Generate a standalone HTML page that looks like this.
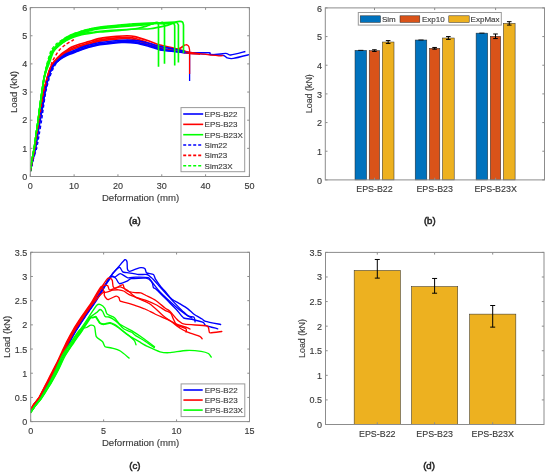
<!DOCTYPE html>
<html><head><meta charset="utf-8"><style>
html,body{margin:0;padding:0;background:#fff;}
svg{display:block;font-family:"Liberation Sans",sans-serif;transform:translateZ(0);will-change:transform;filter:blur(0.3px);}
</style></head><body>
<svg width="550" height="475" viewBox="0 0 550 475">
<defs>
<clipPath id="ca"><rect x="30.3" y="7.6" width="155.2" height="168.9"/></clipPath>
<clipPath id="ca2"><rect x="185.5" y="7.6" width="63.900000000000006" height="168.9"/></clipPath>
<clipPath id="cc"><rect x="30.7" y="252.3" width="218.8" height="169.3"/></clipPath>
</defs>
<rect width="550" height="475" fill="#fff"/>
<g clip-path="url(#ca)">
<path d="M30.3,171 C30.92,167.99 34.03,153.33 34.94,148.4 C35.85,143.47 36.53,137.79 37.12,134 C37.72,130.21 38.78,123.87 39.4,120 C40.02,116.13 41.15,108.79 41.78,105 C42.42,101.21 43.44,95.08 44.16,91.6 C44.89,88.12 46.42,81.95 47.23,78.9 C48.04,75.86 49.32,71.03 50.2,68.76 C51.08,66.49 52.36,63.88 53.86,61.88 C55.37,59.89 59.57,55.51 61.49,53.81 C63.4,52.12 66.78,50.12 68.22,49.19 C69.66,48.25 70.73,47.49 72.3,46.8 C73.87,46.11 77.83,44.69 80,44 C82.17,43.31 85.93,42.35 88.6,41.6 C91.27,40.85 96.29,39.09 100,38.4 C103.71,37.71 112.76,36.75 116.4,36.4 C120.04,36.05 124.83,35.73 127.3,35.75 C129.77,35.78 131.99,35.88 134.9,36.59 C137.81,37.3 145.75,39.96 149.1,41.09 C152.45,42.22 156.55,44.08 160,45.06 C163.45,46.05 170.99,47.48 175,48.46 C179.01,49.44 186.1,51.63 190.1,52.4 C194.1,53.17 200.93,53.73 205,54.2 C209.07,54.67 218.17,55.73 220.6,55.9 C223.03,56.07 222.85,55.55 223.2,55.5" stroke="#ff0000" stroke-width="1.65" fill="none" stroke-linejoin="round"/>
<path d="M30.3,171 C30.9,167.99 33.89,153.33 34.76,148.4 C35.64,143.47 36.28,137.79 36.84,134 C37.41,130.21 38.41,123.87 39.02,120 C39.64,116.13 40.79,108.79 41.43,105 C42.07,101.21 43.1,95.06 43.83,91.6 C44.57,88.14 46.13,82.03 46.94,79.02 C47.76,76.02 49.05,71.28 49.95,69.06 C50.85,66.84 52.14,64.31 53.66,62.4 C55.18,60.5 59.44,56.37 61.38,54.8 C63.32,53.22 66.74,51.44 68.2,50.58 C69.65,49.71 70.73,48.98 72.3,48.3 C73.87,47.62 77.83,46.19 80,45.5 C82.17,44.81 85.93,43.85 88.6,43.1 C91.27,42.35 96.29,40.59 100,39.9 C103.71,39.21 112.76,38.25 116.4,37.9 C120.04,37.55 124.83,37.25 127.3,37.31 C129.77,37.37 131.99,37.56 134.9,38.35 C137.81,39.14 145.75,42.01 149.1,43.23 C152.45,44.44 156.55,46.45 160,47.48 C163.45,48.52 171,50.21 175,51.01 C179,51.81 186.67,53.06 190,53.5 C193.33,53.94 198.67,54.19 200,54.3" stroke="#ff0000" stroke-width="1.65" fill="none" stroke-linejoin="round"/>
<path d="M30.3,171 C30.88,167.99 33.78,153.33 34.62,148.4 C35.46,143.47 36.08,137.79 36.62,134 C37.17,130.21 38.12,123.87 38.73,120 C39.33,116.13 40.5,108.79 41.14,105 C41.79,101.21 42.83,95.05 43.57,91.6 C44.32,88.15 45.89,82.09 46.71,79.12 C47.54,76.15 48.85,71.47 49.75,69.3 C50.65,67.13 51.96,64.65 53.5,62.82 C55.04,60.99 59.33,57.07 61.29,55.58 C63.25,54.1 66.71,52.5 68.18,51.69 C69.65,50.88 70.72,50.17 72.3,49.5 C73.88,48.83 77.83,47.39 80,46.7 C82.17,46.01 85.93,45.05 88.6,44.3 C91.27,43.55 96.29,41.79 100,41.1 C103.71,40.41 112.76,39.44 116.4,39.1 C120.04,38.76 124.83,38.47 127.3,38.56 C129.77,38.65 131.99,38.91 134.9,39.76 C137.81,40.61 145.75,43.64 149.1,44.93 C152.45,46.22 156.95,48.74 160,49.42 C163.05,50.09 169.73,49.98 172,50 C174.27,50.02 175.8,49.89 177,49.6 C178.2,49.31 180,48.37 181,47.8 C182,47.23 183.7,45.7 184.5,45.3 C185.3,44.9 186.43,44.64 187,44.8 C187.57,44.96 188.45,45.81 188.8,46.5 C189.15,47.19 189.49,49.53 189.6,50 L189.6,74" stroke="#ff0000" stroke-width="1.65" fill="none" stroke-linejoin="round"/>
<path d="M30.3,171 C30.98,167.99 34.42,153.33 35.42,148.4 C36.42,143.47 37.15,137.79 37.79,134 C38.43,130.21 39.54,123.87 40.23,120 C40.91,116.13 42.24,108.79 42.9,105 C43.57,101.21 44.49,95.08 45.19,91.6 C45.89,88.12 47.3,81.94 48.16,78.89 C49.03,75.85 50.59,71 51.64,68.77 C52.68,66.53 54.62,63.72 56.01,62.11 C57.4,60.5 60.62,57.83 62.06,56.69 C63.5,55.54 64.74,54.54 66.82,53.52 C68.91,52.49 75.14,50.02 77.7,49 C80.26,47.98 83.83,46.59 86,45.9 C88.17,45.21 92.13,44.25 94,43.8 C95.87,43.35 96.29,42.98 100,42.5 C103.71,42.02 117,40.46 121.8,40.2 C126.6,39.94 132.36,40.11 136,40.53 C139.64,40.94 145.9,42.54 149.1,43.32 C152.3,44.1 156.55,45.56 160,46.35 C163.45,47.14 170.99,48.45 175,49.27 C179.01,50.09 185.54,52.04 190.1,52.5 C194.66,52.96 206.49,52.42 209.2,52.7 C211.91,52.98 208.2,54.51 210.4,54.6 C212.6,54.69 222.98,53.35 225.7,53.4 C228.42,53.45 228.17,55.25 230.8,55 C233.43,54.75 243.45,51.97 245.4,51.5" stroke="#0000ff" stroke-width="1.65" fill="none" stroke-linejoin="round"/>
<path d="M30.3,171 C30.96,167.99 34.28,153.33 35.25,148.4 C36.21,143.47 36.9,137.79 37.52,134 C38.14,130.21 39.22,123.87 39.9,120 C40.58,116.13 41.94,108.79 42.61,105 C43.28,101.21 44.21,95.06 44.92,91.6 C45.63,88.14 47.06,82.05 47.93,79.05 C48.8,76.05 50.38,71.29 51.44,69.1 C52.5,66.92 54.45,64.21 55.85,62.67 C57.26,61.14 60.52,58.64 61.97,57.57 C63.43,56.5 64.69,55.62 66.79,54.65 C68.89,53.68 75.14,51.29 77.7,50.3 C80.26,49.31 83.83,47.89 86,47.2 C88.17,46.51 92.13,45.55 94,45.1 C95.87,44.65 96.29,44.28 100,43.8 C103.71,43.32 117,41.73 121.8,41.5 C126.6,41.27 132.36,41.59 136,42.08 C139.64,42.57 145.9,44.32 149.1,45.17 C152.3,46.02 156.55,47.6 160,48.45 C163.45,49.29 171,50.83 175,51.48 C179,52.13 185.33,52.9 190,53.3 C194.67,53.7 205.57,54.23 210,54.5 C214.43,54.77 220.93,54.86 223.2,55.3 C225.47,55.74 225.65,57.39 227,57.8 C228.35,58.21 230.1,58.88 233.3,58.4 C236.5,57.92 248.64,54.76 251,54.2" stroke="#0000ff" stroke-width="1.65" fill="none" stroke-linejoin="round"/>
<path d="M30.3,171 C30.94,167.99 34.19,153.33 35.13,148.4 C36.06,143.47 36.73,137.79 37.33,134 C37.94,130.21 39,123.87 39.67,120 C40.35,116.13 41.73,108.79 42.4,105 C43.08,101.21 44.01,95.05 44.73,91.6 C45.44,88.15 46.89,82.12 47.76,79.16 C48.64,76.19 50.23,71.48 51.3,69.34 C52.36,67.19 54.33,64.55 55.75,63.07 C57.16,61.58 60.44,59.2 61.91,58.18 C63.38,57.17 64.66,56.36 66.77,55.43 C68.87,54.5 75.14,52.18 77.7,51.2 C80.26,50.22 83.83,48.79 86,48.1 C88.17,47.41 92.13,46.45 94,46 C95.87,45.55 96.29,45.18 100,44.7 C103.71,44.22 117,42.61 121.8,42.4 C126.6,42.19 132.36,42.61 136,43.15 C139.64,43.69 145.9,45.55 149.1,46.45 C152.3,47.35 156.55,49.22 160,49.9 C163.45,50.57 171.53,51.15 175,51.5 C178.47,51.85 184.05,52.23 186,52.5 C187.95,52.77 189.12,53.37 189.6,53.5 L189.6,81" stroke="#0000ff" stroke-width="1.65" fill="none" stroke-linejoin="round"/>
<path d="M30.3,171 C30.55,169.4 31.65,162.2 32.2,159 C32.75,155.8 33.85,150.47 34.4,147 C34.95,143.53 35.79,136.6 36.3,133 C36.81,129.4 37.69,123.73 38.2,120 C38.71,116.27 39.59,108.79 40.1,105 C40.61,101.21 41.49,95.07 42,91.6 C42.51,88.13 43.39,81.81 43.9,79 C44.41,76.19 45.25,72.63 45.8,70.5 C46.35,68.37 47.04,65.67 48,63 C48.96,60.33 51.07,53.42 53,50.5 C54.93,47.58 59.83,43.1 62.5,41.1 C65.17,39.1 69.47,36.87 73,35.52 C76.53,34.17 85.4,31.9 89,31 C92.6,30.1 95.63,29.37 100,28.8 C104.37,28.23 115.99,27.21 121.8,26.7 C127.61,26.19 139.57,25.36 143.6,25 C147.63,24.64 150.41,24.32 152,24 C153.59,23.68 154.75,22.8 155.5,22.6 C156.25,22.4 157.2,22.18 157.6,22.5 C158,22.82 158.38,24.67 158.5,25 L158.5,66.8" stroke="#00ff00" stroke-width="1.65" fill="none" stroke-linejoin="round"/>
<path d="M30.3,171 C30.55,169.4 31.65,162.2 32.2,159 C32.75,155.8 33.85,150.47 34.4,147 C34.95,143.53 35.79,136.6 36.3,133 C36.81,129.4 37.69,123.73 38.2,120 C38.71,116.27 39.59,108.79 40.1,105 C40.61,101.21 41.49,95.07 42,91.6 C42.51,88.13 43.39,81.81 43.9,79 C44.41,76.19 45.19,72.63 45.8,70.5 C46.41,68.37 47.61,65.4 48.5,63 C49.39,60.6 51.09,54.81 52.5,52.5 C53.91,50.19 57.27,47.23 59.1,45.65 C60.93,44.07 64.39,41.75 66.2,40.65 C68.01,39.55 70.86,38.17 72.7,37.44 C74.54,36.7 77.16,35.75 80,35.13 C82.84,34.52 91.33,33.22 94,32.8 C96.67,32.38 96.29,32.35 100,32 C103.71,31.65 116.71,30.71 121.8,30.2 C126.89,29.69 134.85,28.76 138.2,28.2 C141.55,27.64 145.02,26.56 146.9,26 C148.78,25.44 150.55,24.43 152.3,24 C154.05,23.57 158.6,23 160,22.8 C161.4,22.6 162.2,22.21 162.8,22.5 C163.4,22.79 164.27,24.67 164.5,25 L164.5,63.7" stroke="#00ff00" stroke-width="1.65" fill="none" stroke-linejoin="round"/>
<path d="M30.3,171 C30.55,169.4 31.65,162.2 32.2,159 C32.75,155.8 33.85,150.47 34.4,147 C34.95,143.53 35.79,136.6 36.3,133 C36.81,129.4 37.69,123.73 38.2,120 C38.71,116.27 39.59,108.79 40.1,105 C40.61,101.21 41.49,95.07 42,91.6 C42.51,88.13 43.39,81.81 43.9,79 C44.41,76.19 45.25,72.63 45.8,70.5 C46.35,68.37 47.04,65.67 48,63 C48.96,60.33 51.07,53.45 53,50.5 C54.93,47.55 59.83,42.94 62.5,40.88 C65.17,38.81 69.47,36.42 73,34.98 C76.53,33.54 85.4,31.04 89,30.1 C92.6,29.16 95.63,28.47 100,27.9 C104.37,27.33 115.99,26.31 121.8,25.8 C127.61,25.29 139.24,24.41 143.6,24.1 C147.96,23.79 151.65,23.54 154.5,23.5 C157.35,23.46 162.87,23.84 165,23.8 C167.13,23.76 169.37,23.27 170.5,23.2 C171.63,23.13 172.94,22.99 173.5,23.3 C174.06,23.61 174.54,25.21 174.7,25.5 L174.7,65.5" stroke="#00ff00" stroke-width="1.65" fill="none" stroke-linejoin="round"/>
<path d="M30.3,171 C30.55,169.4 31.65,162.2 32.2,159 C32.75,155.8 33.85,150.47 34.4,147 C34.95,143.53 35.79,136.6 36.3,133 C36.81,129.4 37.69,123.73 38.2,120 C38.71,116.27 39.59,108.79 40.1,105 C40.61,101.21 41.49,95.07 42,91.6 C42.51,88.13 43.3,81.81 43.9,79 C44.5,76.19 45.75,72.7 46.5,70.5 C47.25,68.3 48.57,65.03 49.5,62.5 C50.43,59.97 52.22,53.81 53.5,51.5 C54.78,49.19 57.41,46.73 59.1,45.2 C60.79,43.67 64.39,41.15 66.2,40 C68.01,38.85 70.86,37.37 72.7,36.6 C74.54,35.83 77.09,34.81 80,34.2 C82.91,33.59 91.83,32.4 94.5,32 C97.17,31.6 96.36,31.49 100,31.2 C103.64,30.91 116.73,30.09 121.8,29.8 C126.87,29.51 134.24,29.13 138,29 C141.76,28.87 146.4,29.21 150,28.8 C153.6,28.39 161.53,26.74 165,25.9 C168.47,25.06 174.21,22.62 176,22.5 C177.79,22.38 178.08,24.67 178.4,25 L178.4,62.4" stroke="#00ff00" stroke-width="1.65" fill="none" stroke-linejoin="round"/>
<path d="M30.3,171 C30.55,169.4 31.65,162.2 32.2,159 C32.75,155.8 33.85,150.47 34.4,147 C34.95,143.53 35.79,136.6 36.3,133 C36.81,129.4 37.69,123.73 38.2,120 C38.71,116.27 39.59,108.79 40.1,105 C40.61,101.21 41.49,95.07 42,91.6 C42.51,88.13 43.39,81.81 43.9,79 C44.41,76.19 45.31,72.61 45.8,70.5 C46.29,68.39 46.69,65.89 47.6,63.2 C48.51,60.51 50.68,53.35 52.6,50.3 C54.52,47.25 59.35,42.43 62,40.3 C64.65,38.17 68.95,35.78 72.5,34.3 C76.05,32.82 84.93,30.17 88.6,29.2 C92.27,28.23 95.57,27.59 100,27 C104.43,26.41 115.99,25.31 121.8,24.8 C127.61,24.29 137.84,23.49 143.6,23.2 C149.36,22.91 160.81,22.76 165,22.6 C169.19,22.44 173,22.16 175,22 C177,21.84 178.99,21.37 180,21.4 C181.01,21.43 182.13,21.72 182.6,22.2 C183.07,22.68 183.38,24.63 183.5,25 L183.5,53" stroke="#00ff00" stroke-width="1.65" fill="none" stroke-linejoin="round"/>
<path d="M30.3,171 C30.66,169.53 32.16,163.01 33,160 C33.84,156.99 35.77,151.87 36.6,148.4 C37.43,144.93 38.53,137.79 39.2,134 C39.87,130.21 41,123.87 41.6,120 C42.2,116.13 43.14,108.79 43.7,105 C44.26,101.21 45.09,95.07 45.8,91.6 C46.51,88.13 48.04,82.01 49,79 C49.96,75.99 51.87,71.33 53,69 C54.13,66.67 55.77,63.37 57.5,61.5 C59.23,59.63 63,56.56 66,55 C69,53.44 75.47,51.27 80,49.8 C84.53,48.33 94.67,45.04 100,44 C105.33,42.96 114.67,42.27 120,42 C125.33,41.73 137.33,42 140,42" stroke="#0000ff" stroke-width="1.5" fill="none" stroke-linejoin="round" stroke-dasharray="3.2,2.2"/>
<path d="M30.3,171 C30.9,167.99 33.92,153.33 34.8,148.4 C35.68,143.47 36.33,137.79 36.9,134 C37.47,130.21 38.49,123.87 39.1,120 C39.71,116.13 40.86,108.79 41.5,105 C42.14,101.21 43.17,95.07 43.9,91.6 C44.63,88.13 46.19,82.01 47,79 C47.81,75.99 49.25,71.4 50,69 C50.75,66.6 51.37,63.51 52.6,61 C53.83,58.49 57.45,52.39 59.2,50.2 C60.95,48.01 63.74,46 65.7,44.6 C67.66,43.2 72.81,40.35 73.9,39.7" stroke="#ff0000" stroke-width="1.45" fill="none" stroke-linejoin="round" stroke-dasharray="3.2,2.2"/>
<path d="M30.3,171 C30.55,169.4 31.65,162.2 32.2,159 C32.75,155.8 33.85,150.47 34.4,147 C34.95,143.53 35.79,136.6 36.3,133 C36.81,129.4 37.69,123.73 38.2,120 C38.71,116.27 39.59,108.79 40.1,105 C40.61,101.21 41.49,95.07 42,91.6 C42.51,88.13 43.43,81.81 43.9,79 C44.37,76.19 45.03,72.73 45.5,70.5 C45.97,68.27 46.67,64.93 47.4,62.3 C48.13,59.67 49.85,53.21 51,50.8 C52.15,48.39 54.49,45.67 56,44.2 C57.51,42.73 60.07,41.16 62.3,39.8 C64.53,38.44 69.17,35.41 72.7,34 C76.23,32.59 85.16,30.07 88.8,29.2 C92.44,28.33 95.6,28.02 100,27.5 C104.4,26.98 116.47,25.81 121.8,25.3 C127.13,24.79 137.57,23.91 140,23.7" stroke="#00ff00" stroke-width="1.5" fill="none" stroke-linejoin="round" stroke-dasharray="3.2,2.2"/>
</g>
<g clip-path="url(#ca2)">
<path d="M30.3,171 C30.98,167.99 34.42,153.33 35.42,148.4 C36.42,143.47 37.15,137.79 37.79,134 C38.43,130.21 39.54,123.87 40.23,120 C40.91,116.13 42.24,108.79 42.9,105 C43.57,101.21 44.49,95.08 45.19,91.6 C45.89,88.12 47.3,81.94 48.16,78.89 C49.03,75.85 50.59,71 51.64,68.77 C52.68,66.53 54.62,63.72 56.01,62.11 C57.4,60.5 60.62,57.83 62.06,56.69 C63.5,55.54 64.74,54.54 66.82,53.52 C68.91,52.49 75.14,50.02 77.7,49 C80.26,47.98 83.83,46.59 86,45.9 C88.17,45.21 92.13,44.25 94,43.8 C95.87,43.35 96.29,42.98 100,42.5 C103.71,42.02 117,40.46 121.8,40.2 C126.6,39.94 132.36,40.11 136,40.53 C139.64,40.94 145.9,42.54 149.1,43.32 C152.3,44.1 156.55,45.56 160,46.35 C163.45,47.14 170.99,48.45 175,49.27 C179.01,50.09 185.54,52.04 190.1,52.5 C194.66,52.96 206.49,52.42 209.2,52.7 C211.91,52.98 208.2,54.51 210.4,54.6 C212.6,54.69 222.98,53.35 225.7,53.4 C228.42,53.45 228.17,55.25 230.8,55 C233.43,54.75 243.45,51.97 245.4,51.5" stroke="#0000ff" stroke-width="1.3" fill="none" stroke-linejoin="round"/>
<path d="M30.3,171 C30.96,167.99 34.28,153.33 35.25,148.4 C36.21,143.47 36.9,137.79 37.52,134 C38.14,130.21 39.22,123.87 39.9,120 C40.58,116.13 41.94,108.79 42.61,105 C43.28,101.21 44.21,95.06 44.92,91.6 C45.63,88.14 47.06,82.05 47.93,79.05 C48.8,76.05 50.38,71.29 51.44,69.1 C52.5,66.92 54.45,64.21 55.85,62.67 C57.26,61.14 60.52,58.64 61.97,57.57 C63.43,56.5 64.69,55.62 66.79,54.65 C68.89,53.68 75.14,51.29 77.7,50.3 C80.26,49.31 83.83,47.89 86,47.2 C88.17,46.51 92.13,45.55 94,45.1 C95.87,44.65 96.29,44.28 100,43.8 C103.71,43.32 117,41.73 121.8,41.5 C126.6,41.27 132.36,41.59 136,42.08 C139.64,42.57 145.9,44.32 149.1,45.17 C152.3,46.02 156.55,47.6 160,48.45 C163.45,49.29 171,50.83 175,51.48 C179,52.13 185.33,52.9 190,53.3 C194.67,53.7 205.57,54.23 210,54.5 C214.43,54.77 220.93,54.86 223.2,55.3 C225.47,55.74 225.65,57.39 227,57.8 C228.35,58.21 230.1,58.88 233.3,58.4 C236.5,57.92 248.64,54.76 251,54.2" stroke="#0000ff" stroke-width="1.3" fill="none" stroke-linejoin="round"/>
<path d="M30.3,171 C30.94,167.99 34.19,153.33 35.13,148.4 C36.06,143.47 36.73,137.79 37.33,134 C37.94,130.21 39,123.87 39.67,120 C40.35,116.13 41.73,108.79 42.4,105 C43.08,101.21 44.01,95.05 44.73,91.6 C45.44,88.15 46.89,82.12 47.76,79.16 C48.64,76.19 50.23,71.48 51.3,69.34 C52.36,67.19 54.33,64.55 55.75,63.07 C57.16,61.58 60.44,59.2 61.91,58.18 C63.38,57.17 64.66,56.36 66.77,55.43 C68.87,54.5 75.14,52.18 77.7,51.2 C80.26,50.22 83.83,48.79 86,48.1 C88.17,47.41 92.13,46.45 94,46 C95.87,45.55 96.29,45.18 100,44.7 C103.71,44.22 117,42.61 121.8,42.4 C126.6,42.19 132.36,42.61 136,43.15 C139.64,43.69 145.9,45.55 149.1,46.45 C152.3,47.35 156.55,49.22 160,49.9 C163.45,50.57 171.53,51.15 175,51.5 C178.47,51.85 184.05,52.23 186,52.5 C187.95,52.77 189.12,53.37 189.6,53.5 L189.6,81" stroke="#0000ff" stroke-width="1.3" fill="none" stroke-linejoin="round"/>
<path d="M30.3,171 C30.92,167.99 34.03,153.33 34.94,148.4 C35.85,143.47 36.53,137.79 37.12,134 C37.72,130.21 38.78,123.87 39.4,120 C40.02,116.13 41.15,108.79 41.78,105 C42.42,101.21 43.44,95.08 44.16,91.6 C44.89,88.12 46.42,81.95 47.23,78.9 C48.04,75.86 49.32,71.03 50.2,68.76 C51.08,66.49 52.36,63.88 53.86,61.88 C55.37,59.89 59.57,55.51 61.49,53.81 C63.4,52.12 66.78,50.12 68.22,49.19 C69.66,48.25 70.73,47.49 72.3,46.8 C73.87,46.11 77.83,44.69 80,44 C82.17,43.31 85.93,42.35 88.6,41.6 C91.27,40.85 96.29,39.09 100,38.4 C103.71,37.71 112.76,36.75 116.4,36.4 C120.04,36.05 124.83,35.73 127.3,35.75 C129.77,35.78 131.99,35.88 134.9,36.59 C137.81,37.3 145.75,39.96 149.1,41.09 C152.45,42.22 156.55,44.08 160,45.06 C163.45,46.05 170.99,47.48 175,48.46 C179.01,49.44 186.1,51.63 190.1,52.4 C194.1,53.17 200.93,53.73 205,54.2 C209.07,54.67 218.17,55.73 220.6,55.9 C223.03,56.07 222.85,55.55 223.2,55.5" stroke="#ff0000" stroke-width="1.3" fill="none" stroke-linejoin="round"/>
<path d="M30.3,171 C30.9,167.99 33.89,153.33 34.76,148.4 C35.64,143.47 36.28,137.79 36.84,134 C37.41,130.21 38.41,123.87 39.02,120 C39.64,116.13 40.79,108.79 41.43,105 C42.07,101.21 43.1,95.06 43.83,91.6 C44.57,88.14 46.13,82.03 46.94,79.02 C47.76,76.02 49.05,71.28 49.95,69.06 C50.85,66.84 52.14,64.31 53.66,62.4 C55.18,60.5 59.44,56.37 61.38,54.8 C63.32,53.22 66.74,51.44 68.2,50.58 C69.65,49.71 70.73,48.98 72.3,48.3 C73.87,47.62 77.83,46.19 80,45.5 C82.17,44.81 85.93,43.85 88.6,43.1 C91.27,42.35 96.29,40.59 100,39.9 C103.71,39.21 112.76,38.25 116.4,37.9 C120.04,37.55 124.83,37.25 127.3,37.31 C129.77,37.37 131.99,37.56 134.9,38.35 C137.81,39.14 145.75,42.01 149.1,43.23 C152.45,44.44 156.55,46.45 160,47.48 C163.45,48.52 171,50.21 175,51.01 C179,51.81 186.67,53.06 190,53.5 C193.33,53.94 198.67,54.19 200,54.3" stroke="#ff0000" stroke-width="1.3" fill="none" stroke-linejoin="round"/>
<path d="M30.3,171 C30.88,167.99 33.78,153.33 34.62,148.4 C35.46,143.47 36.08,137.79 36.62,134 C37.17,130.21 38.12,123.87 38.73,120 C39.33,116.13 40.5,108.79 41.14,105 C41.79,101.21 42.83,95.05 43.57,91.6 C44.32,88.15 45.89,82.09 46.71,79.12 C47.54,76.15 48.85,71.47 49.75,69.3 C50.65,67.13 51.96,64.65 53.5,62.82 C55.04,60.99 59.33,57.07 61.29,55.58 C63.25,54.1 66.71,52.5 68.18,51.69 C69.65,50.88 70.72,50.17 72.3,49.5 C73.88,48.83 77.83,47.39 80,46.7 C82.17,46.01 85.93,45.05 88.6,44.3 C91.27,43.55 96.29,41.79 100,41.1 C103.71,40.41 112.76,39.44 116.4,39.1 C120.04,38.76 124.83,38.47 127.3,38.56 C129.77,38.65 131.99,38.91 134.9,39.76 C137.81,40.61 145.75,43.64 149.1,44.93 C152.45,46.22 156.95,48.74 160,49.42 C163.05,50.09 169.73,49.98 172,50 C174.27,50.02 175.8,49.89 177,49.6 C178.2,49.31 180,48.37 181,47.8 C182,47.23 183.7,45.7 184.5,45.3 C185.3,44.9 186.43,44.64 187,44.8 C187.57,44.96 188.45,45.81 188.8,46.5 C189.15,47.19 189.49,49.53 189.6,50 L189.6,74" stroke="#ff0000" stroke-width="1.3" fill="none" stroke-linejoin="round"/>
</g>
<rect x="30.3" y="7.6" width="219.1" height="168.9" fill="none" stroke="#8c8c8c" stroke-width="1.0"/>
<path d="M30.3,176.5h2.2M249.4,176.5h-2.2M30.3,148.35h2.2M249.4,148.35h-2.2M30.3,120.2h2.2M249.4,120.2h-2.2M30.3,92.05h2.2M249.4,92.05h-2.2M30.3,63.9h2.2M249.4,63.9h-2.2M30.3,35.75h2.2M249.4,35.75h-2.2M30.3,7.6h2.2M249.4,7.6h-2.2M30.3,176.5v-2.2M30.3,7.6v2.2M74.12,176.5v-2.2M74.12,7.6v2.2M117.94,176.5v-2.2M117.94,7.6v2.2M161.76,176.5v-2.2M161.76,7.6v2.2M205.58,176.5v-2.2M205.58,7.6v2.2M249.4,176.5v-2.2M249.4,7.6v2.2" stroke="#8c8c8c" stroke-width="1.0" fill="none"/>
<text x="27.3" y="179.7" font-size="9" text-anchor="end" fill="#3a3a3a" stroke="#3a3a3a" stroke-width="0.14" >0</text>
<text x="27.3" y="151.55" font-size="9" text-anchor="end" fill="#3a3a3a" stroke="#3a3a3a" stroke-width="0.14" >1</text>
<text x="27.3" y="123.4" font-size="9" text-anchor="end" fill="#3a3a3a" stroke="#3a3a3a" stroke-width="0.14" >2</text>
<text x="27.3" y="95.25" font-size="9" text-anchor="end" fill="#3a3a3a" stroke="#3a3a3a" stroke-width="0.14" >3</text>
<text x="27.3" y="67.1" font-size="9" text-anchor="end" fill="#3a3a3a" stroke="#3a3a3a" stroke-width="0.14" >4</text>
<text x="27.3" y="38.95" font-size="9" text-anchor="end" fill="#3a3a3a" stroke="#3a3a3a" stroke-width="0.14" >5</text>
<text x="27.3" y="10.8" font-size="9" text-anchor="end" fill="#3a3a3a" stroke="#3a3a3a" stroke-width="0.14" >6</text>
<text x="30.3" y="189.3" font-size="9" text-anchor="middle" fill="#3a3a3a" stroke="#3a3a3a" stroke-width="0.14" >0</text>
<text x="74.12" y="189.3" font-size="9" text-anchor="middle" fill="#3a3a3a" stroke="#3a3a3a" stroke-width="0.14" >10</text>
<text x="117.94" y="189.3" font-size="9" text-anchor="middle" fill="#3a3a3a" stroke="#3a3a3a" stroke-width="0.14" >20</text>
<text x="161.76" y="189.3" font-size="9" text-anchor="middle" fill="#3a3a3a" stroke="#3a3a3a" stroke-width="0.14" >30</text>
<text x="205.58" y="189.3" font-size="9" text-anchor="middle" fill="#3a3a3a" stroke="#3a3a3a" stroke-width="0.14" >40</text>
<text x="249.4" y="189.3" font-size="9" text-anchor="middle" fill="#3a3a3a" stroke="#3a3a3a" stroke-width="0.14" >50</text>
<text x="140.6" y="200.8" font-size="9.6" text-anchor="middle" fill="#3a3a3a" stroke="#3a3a3a" stroke-width="0.14" >Deformation (mm)</text>
<text x="0" y="0" font-size="9.6" text-anchor="middle" fill="#3a3a3a" stroke="#3a3a3a" stroke-width="0.14" transform="translate(17.2,92) rotate(-90)">Load (kN)</text>
<text x="134.8" y="223.8" font-size="9.6" text-anchor="middle" fill="#2a2a2a" stroke="#2a2a2a" stroke-width="0.55">(a)</text>
<rect x="181" y="107.6" width="63.7" height="64.1" fill="#fff" stroke="#9a9a9a" stroke-width="1"/>
<path d="M183.2,114H203.2" stroke="#0000ff" stroke-width="1.6"/>
<text x="204.6" y="116.9" font-size="8" text-anchor="start" fill="#3a3a3a" stroke="#3a3a3a" stroke-width="0.14" >EPS-B22</text>
<path d="M183.2,124.35H203.2" stroke="#ff0000" stroke-width="1.6"/>
<text x="204.6" y="127.25" font-size="8" text-anchor="start" fill="#3a3a3a" stroke="#3a3a3a" stroke-width="0.14" >EPS-B23</text>
<path d="M183.2,134.7H203.2" stroke="#00ff00" stroke-width="1.6"/>
<text x="204.6" y="137.6" font-size="8" text-anchor="start" fill="#3a3a3a" stroke="#3a3a3a" stroke-width="0.14" >EPS-B23X</text>
<path d="M183.2,145.05H203.2" stroke="#0000ff" stroke-width="1.6" stroke-dasharray="3,2"/>
<text x="204.6" y="147.95" font-size="8" text-anchor="start" fill="#3a3a3a" stroke="#3a3a3a" stroke-width="0.14" >Sim22</text>
<path d="M183.2,155.4H203.2" stroke="#ff0000" stroke-width="1.6" stroke-dasharray="3,2"/>
<text x="204.6" y="158.3" font-size="8" text-anchor="start" fill="#3a3a3a" stroke="#3a3a3a" stroke-width="0.14" >Sim23</text>
<path d="M183.2,165.75H203.2" stroke="#00ff00" stroke-width="1.6" stroke-dasharray="3,2"/>
<text x="204.6" y="168.65" font-size="8" text-anchor="start" fill="#3a3a3a" stroke="#3a3a3a" stroke-width="0.14" >Sim23X</text>
<rect x="355" y="50.33" width="11.6" height="129.57" fill="#0072bd" stroke="#262626" stroke-width="0.5"/>
<rect x="369.2" y="50.61" width="10.4" height="129.29" fill="#d95319" stroke="#262626" stroke-width="0.5"/>
<rect x="382.3" y="42.01" width="11.7" height="137.89" fill="#edb120" stroke="#262626" stroke-width="0.5"/>
<rect x="415.2" y="40.01" width="11.6" height="139.89" fill="#0072bd" stroke="#262626" stroke-width="0.5"/>
<rect x="429.4" y="48.32" width="10.4" height="131.58" fill="#d95319" stroke="#262626" stroke-width="0.5"/>
<rect x="442.5" y="38" width="11.7" height="141.9" fill="#edb120" stroke="#262626" stroke-width="0.5"/>
<rect x="476.1" y="33.13" width="11.6" height="146.77" fill="#0072bd" stroke="#262626" stroke-width="0.5"/>
<rect x="490.3" y="36.28" width="10.4" height="143.62" fill="#d95319" stroke="#262626" stroke-width="0.5"/>
<rect x="503.4" y="23.38" width="11.7" height="156.52" fill="#edb120" stroke="#262626" stroke-width="0.5"/>
<path d="M358.2,50.33h5.2" stroke="#000" stroke-width="0.9"/>
<path d="M374.4,49.75V51.47M372.1,49.75h4.6M372.1,51.47h4.6" stroke="#000" stroke-width="1"/>
<path d="M388.15,40.58V43.45M385.85,40.58h4.6M385.85,43.45h4.6" stroke="#000" stroke-width="1"/>
<path d="M418.4,40.01h5.2" stroke="#000" stroke-width="0.9"/>
<path d="M434.6,47.46V49.18M432.3,47.46h4.6M432.3,49.18h4.6" stroke="#000" stroke-width="1"/>
<path d="M448.35,36.57V39.43M446.05,36.57h4.6M446.05,39.43h4.6" stroke="#000" stroke-width="1"/>
<path d="M479.3,33.13h5.2" stroke="#000" stroke-width="0.9"/>
<path d="M495.5,33.99V38.57M493.2,33.99h4.6M493.2,38.57h4.6" stroke="#000" stroke-width="1"/>
<path d="M509.25,21.66V25.1M506.95,21.66h4.6M506.95,25.1h4.6" stroke="#000" stroke-width="1"/>
<rect x="325.3" y="7.9" width="219.2" height="172" fill="none" stroke="#8c8c8c" stroke-width="1.0"/>
<path d="M325.3,179.9h2.2M544.5,179.9h-2.2M325.3,151.23h2.2M544.5,151.23h-2.2M325.3,122.57h2.2M544.5,122.57h-2.2M325.3,93.9h2.2M544.5,93.9h-2.2M325.3,65.23h2.2M544.5,65.23h-2.2M325.3,36.57h2.2M544.5,36.57h-2.2M325.3,7.9h2.2M544.5,7.9h-2.2M374.5,179.9v-2.2M374.5,7.9v2.2M434.7,179.9v-2.2M434.7,7.9v2.2M495.6,179.9v-2.2M495.6,7.9v2.2" stroke="#8c8c8c" stroke-width="1.0" fill="none"/>
<text x="322" y="183.5" font-size="9" text-anchor="end" fill="#3a3a3a" stroke="#3a3a3a" stroke-width="0.14" >0</text>
<text x="322" y="154.83" font-size="9" text-anchor="end" fill="#3a3a3a" stroke="#3a3a3a" stroke-width="0.14" >1</text>
<text x="322" y="126.17" font-size="9" text-anchor="end" fill="#3a3a3a" stroke="#3a3a3a" stroke-width="0.14" >2</text>
<text x="322" y="97.5" font-size="9" text-anchor="end" fill="#3a3a3a" stroke="#3a3a3a" stroke-width="0.14" >3</text>
<text x="322" y="68.83" font-size="9" text-anchor="end" fill="#3a3a3a" stroke="#3a3a3a" stroke-width="0.14" >4</text>
<text x="322" y="40.17" font-size="9" text-anchor="end" fill="#3a3a3a" stroke="#3a3a3a" stroke-width="0.14" >5</text>
<text x="322" y="11.5" font-size="9" text-anchor="end" fill="#3a3a3a" stroke="#3a3a3a" stroke-width="0.14" >6</text>
<text x="374.5" y="192.4" font-size="8.9" text-anchor="middle" fill="#3a3a3a" stroke="#3a3a3a" stroke-width="0.14" >EPS-B22</text>
<text x="434.7" y="192.4" font-size="8.9" text-anchor="middle" fill="#3a3a3a" stroke="#3a3a3a" stroke-width="0.14" >EPS-B23</text>
<text x="495.6" y="192.4" font-size="8.9" text-anchor="middle" fill="#3a3a3a" stroke="#3a3a3a" stroke-width="0.14" >EPS-B23X</text>
<text x="0" y="0" font-size="8.9" text-anchor="middle" fill="#3a3a3a" stroke="#3a3a3a" stroke-width="0.14" transform="translate(312.2,93.7) rotate(-90)">Load (kN)</text>
<text x="429.8" y="223.5" font-size="9.6" text-anchor="middle" fill="#2a2a2a" stroke="#2a2a2a" stroke-width="0.55">(b)</text>
<rect x="358.3" y="12.5" width="143" height="12.6" fill="#fff" stroke="#9a9a9a" stroke-width="1"/>
<rect x="360.2" y="15.8" width="20.3" height="6.6" fill="#0072bd" stroke="#262626" stroke-width="0.5"/>
<text x="382" y="21.6" font-size="8" text-anchor="start" fill="#3a3a3a" stroke="#3a3a3a" stroke-width="0.14" >Sim</text>
<rect x="400" y="15.8" width="19.8" height="6.6" fill="#d95319" stroke="#262626" stroke-width="0.5"/>
<text x="422" y="21.6" font-size="8" text-anchor="start" fill="#3a3a3a" stroke="#3a3a3a" stroke-width="0.14" >Exp10</text>
<rect x="448.8" y="15.8" width="20.4" height="6.6" fill="#edb120" stroke="#262626" stroke-width="0.5"/>
<text x="470.6" y="21.6" font-size="8" text-anchor="start" fill="#3a3a3a" stroke="#3a3a3a" stroke-width="0.14" >ExpMax</text>
<g clip-path="url(#cc)">
<path d="M30.91,411 C31.4,410.3 34.06,406.46 35.13,405 C36.2,403.54 38.99,400.19 40.07,398.5 C41.15,396.81 43.38,392.37 44.4,390.5 C45.42,388.63 47.69,384.6 48.83,382.5 C49.97,380.4 52.92,374.83 54.18,372.5 C55.45,370.17 58.46,364.77 59.64,362.5 C60.82,360.23 63.15,355.39 64.3,353 C65.45,350.61 68.19,344.57 69.5,342 C70.81,339.43 73.75,333.92 75.5,331 C77.25,328.08 82.4,320.13 84.5,317 C86.6,313.87 91.26,307.63 93.5,304.2 C95.74,300.77 101.86,290.68 103.7,287.6 C105.54,284.52 108.16,279.53 109.3,277.8 C110.44,276.07 112.42,274.08 113.5,272.8 C114.58,271.52 117.27,268.33 118.6,266.8 C119.93,265.27 123.92,260.28 124.9,259.7 C125.88,259.12 126.71,260.72 127,261.8 C127.29,262.88 127.14,267.89 127.4,269 C127.66,270.11 128.31,271.25 129.2,271.3 C130.09,271.35 133.65,269.83 135,269.4 C136.35,268.97 139.63,267.68 140.8,267.6 C141.97,267.52 144.32,268.08 145,268.7 C145.68,269.32 145.62,272.22 146.6,272.9 C147.58,273.58 152.36,273.76 153.4,274.5 C154.44,275.24 154.64,277.79 155.5,279.2 C156.36,280.61 159.69,285.2 160.8,286.6 C161.91,288 163.69,289.72 165,291.2 C166.31,292.68 170.24,297.82 172,299.3 C173.76,300.78 178.21,302.76 180.1,303.9 C181.99,305.04 186.58,307.89 188.2,309.1 C189.82,310.31 192.38,313.15 194,314.3 C195.62,315.45 200.75,318.18 202.1,319 C203.45,319.82 203.44,320.66 205.6,321.3 C207.76,321.94 218.85,324.13 220.6,324.5" stroke="#0000ff" stroke-width="1.35" fill="none" stroke-linejoin="round" stroke-linecap="round"/>
<path d="M30.9,411 C31.39,410.3 34.01,406.46 35.06,405 C36.11,403.54 38.86,400.19 39.92,398.5 C40.99,396.81 43.17,392.37 44.18,390.5 C45.18,388.63 47.41,384.6 48.53,382.5 C49.66,380.4 52.56,374.83 53.8,372.5 C55.05,370.17 58.01,364.77 59.17,362.5 C60.34,360.23 62.65,355.39 63.8,353 C64.95,350.61 67.69,344.57 69,342 C70.31,339.43 73.25,333.92 75,331 C76.75,328.08 81.9,320.13 84,317 C86.1,313.87 90.76,307.63 93,304.2 C95.24,300.77 101.33,290.49 103.2,287.6 C105.07,284.71 107.86,281.1 109,279.4 C110.14,277.7 111.79,274.41 113,273 C114.21,271.59 118.26,267.43 119.4,267.3 C120.54,267.17 121.91,271.27 122.8,271.9 C123.69,272.53 125.14,272.4 127,272.7 C128.85,273 136.35,274.29 138.7,274.5 C141.04,274.71 145.63,274.14 147.1,274.5 C148.57,274.86 149.95,276.32 151.3,277.6 C152.65,278.88 155.94,282.49 158.7,285.5 C161.46,288.51 172.23,300.44 175,303.4 C177.77,306.36 180.86,309.42 182.4,310.9 C183.94,312.38 186.85,315.37 188.2,316.1 C189.55,316.84 193.19,316.52 194,317.2 C194.81,317.88 194.97,321.35 195.1,321.9" stroke="#0000ff" stroke-width="1.35" fill="none" stroke-linejoin="round" stroke-linecap="round"/>
<path d="M30.91,411 C31.41,410.3 34.11,406.46 35.2,405 C36.29,403.54 39.13,400.19 40.22,398.5 C41.32,396.81 43.58,392.37 44.62,390.5 C45.66,388.63 47.96,384.6 49.12,382.5 C50.28,380.4 53.28,374.83 54.56,372.5 C55.85,370.17 58.92,364.77 60.11,362.5 C61.31,360.23 63.65,355.39 64.8,353 C65.95,350.61 68.69,344.57 70,342 C71.31,339.43 74.25,333.92 76,331 C77.75,328.08 82.9,320.13 85,317 C87.1,313.87 91.76,307.63 94,304.2 C96.24,300.77 102.33,290.77 104.2,287.6 C106.07,284.43 108.72,278.24 110,277 C111.28,275.76 114,277.4 115.2,277 C116.4,276.6 118.83,273.51 120.3,273.6 C121.77,273.69 126.03,277.39 127.8,277.8 C129.57,278.21 133.12,277.12 135.5,277.1 C137.88,277.08 146.23,276.87 148.2,277.6 C150.17,278.34 151.79,282.23 152.4,283.4 C153.01,284.57 152.91,286.87 153.4,287.6 C153.89,288.34 154.71,287.94 156.6,289.7 C158.49,291.46 167.27,300.37 169.6,302.7 C171.93,305.03 174.98,307.94 176.6,309.7 C178.22,311.46 181.61,316.66 183.5,317.8 C185.39,318.94 190.5,318.96 192.8,319.5 C195.1,320.04 201.71,321.72 203.2,322.4 C204.69,323.08 203.91,324.55 205.6,325.3 C207.29,326.05 216.29,328.39 217.7,328.8" stroke="#0000ff" stroke-width="1.35" fill="none" stroke-linejoin="round" stroke-linecap="round"/>
<path d="M30.91,411 C31.4,410.3 34.06,406.46 35.13,405 C36.2,403.54 38.99,400.19 40.07,398.5 C41.15,396.81 43.38,392.37 44.4,390.5 C45.42,388.63 47.69,384.6 48.83,382.5 C49.97,380.4 52.92,374.83 54.18,372.5 C55.45,370.17 58.46,364.77 59.64,362.5 C60.82,360.23 63.15,355.39 64.3,353 C65.45,350.61 68.19,344.57 69.5,342 C70.81,339.43 73.75,333.92 75.5,331 C77.25,328.08 82.4,320.13 84.5,317 C86.6,313.87 91.26,307.63 93.5,304.2 C95.74,300.77 101.83,290.49 103.7,287.6 C105.57,284.71 108.53,280.75 109.5,279.4 C110.47,278.05 111.24,276.09 112,276 C112.76,275.91 115.14,277.7 116,278.6 C116.86,279.5 118.12,283.4 119.4,283.7 C120.68,284 125.61,281.78 127,281.2 C128.39,280.62 129.08,279.05 131.3,278.7 C133.52,278.35 143.67,277.9 146,278.2 C148.33,278.5 149.67,279.69 151.3,281.3 C152.93,282.91 157.24,289.12 160,292 C162.76,294.88 172.08,303.43 175,306 C177.92,308.57 183.02,312.6 185,314 C186.98,315.4 191.18,317.53 192,318" stroke="#0000ff" stroke-width="1.35" fill="none" stroke-linejoin="round" stroke-linecap="round"/>
<path d="M30.7,409.5 C31.14,408.8 33.48,404.9 34.46,403.5 C35.44,402.1 38.08,399.13 39.12,397.5 C40.15,395.87 42.38,391.37 43.37,389.5 C44.37,387.63 46.53,383.6 47.63,381.5 C48.73,379.4 51.56,373.83 52.78,371.5 C53.99,369.17 56.89,363.77 58.02,361.5 C59.16,359.23 61.37,354.39 62.5,352 C63.63,349.61 66.39,343.57 67.7,341 C69.01,338.43 71.95,332.92 73.7,330 C75.45,327.08 80.6,319.13 82.7,316 C84.8,312.87 89.46,306.63 91.7,303.2 C93.94,299.77 100.03,289.49 101.9,286.6 C103.77,283.71 106.69,279.36 107.7,278.4 C108.72,277.44 110.06,278.15 110.6,278.4 C111.14,278.64 112.01,279.57 112.3,280.5 C112.59,281.43 112.76,285.51 113.1,286.4 C113.44,287.29 114.07,288.3 115.2,288.1 C116.33,287.9 121.77,284.75 122.8,284.7 C123.83,284.65 123.51,286.96 124,287.7 C124.49,288.44 125.72,290.42 127,291 C128.28,291.58 133.39,292.48 135,292.7 C136.61,292.92 139.52,292.57 140.8,292.9 C142.08,293.23 144.28,294.64 146,295.5 C147.72,296.36 153.28,298.84 155.5,300.3 C157.72,301.76 163.35,306.76 165,308 C166.65,309.24 168.66,310.09 169.6,310.9 C170.54,311.7 172.16,313.83 173.1,314.9 C174.04,315.97 176.35,319.02 177.7,320.1 C179.05,321.19 181.32,323.52 184.7,324.2 C188.08,324.88 203.86,325.15 206.7,325.9 C209.53,326.65 208.59,329.78 209,330.6 C209.41,331.42 208.71,332.79 210.2,332.9 C211.69,333 220.45,331.66 221.8,331.5" stroke="#ff0000" stroke-width="1.35" fill="none" stroke-linejoin="round" stroke-linecap="round"/>
<path d="M30.7,409.5 C31.15,408.8 33.55,404.9 34.55,403.5 C35.56,402.1 38.25,399.13 39.31,397.5 C40.38,395.87 42.65,391.37 43.67,389.5 C44.69,387.63 46.9,383.6 48.03,381.5 C49.15,379.4 52.06,373.83 53.3,371.5 C54.54,369.17 57.51,363.77 58.67,361.5 C59.82,359.23 62.06,354.39 63.2,352 C64.34,349.61 67.09,343.57 68.4,341 C69.71,338.43 72.65,332.92 74.4,330 C76.15,327.08 81.3,319.13 83.4,316 C85.5,312.87 90.16,306.63 92.4,303.2 C94.64,299.77 100.83,288.65 102.6,286.6 C104.37,284.55 106.82,285.23 107.6,285.6 C108.38,285.97 108.66,289.4 109.3,289.8 C109.94,290.2 111.82,289.35 113.1,289 C114.38,288.65 118.91,286.8 120.3,286.8 C121.69,286.8 124.08,288.53 125,289 C125.92,289.47 126.97,289.86 128.2,290.8 C129.42,291.75 133.42,295.99 135.5,297.1 C137.58,298.21 143.54,299.38 146,300.3 C148.46,301.22 154.38,303.83 156.6,305 C158.82,306.17 163.34,309.34 165,310.3 C166.66,311.26 169.86,312.25 170.8,313.2 C171.75,314.14 172.42,317.05 173.1,318.4 C173.78,319.75 175.11,323.59 176.6,324.8 C178.09,326.01 184.8,327.96 185.9,328.8 C187,329.64 185.99,331.63 186,332" stroke="#ff0000" stroke-width="1.35" fill="none" stroke-linejoin="round" stroke-linecap="round"/>
<path d="M30.7,409.5 C31.16,408.8 33.61,404.9 34.64,403.5 C35.67,402.1 38.42,399.13 39.51,397.5 C40.6,395.87 42.93,391.37 43.97,389.5 C45.01,387.63 47.28,383.6 48.43,381.5 C49.58,379.4 52.55,373.83 53.82,371.5 C55.09,369.17 58.14,363.77 59.31,361.5 C60.49,359.23 62.76,354.39 63.9,352 C65.04,349.61 67.79,343.57 69.1,341 C70.41,338.43 73.35,332.92 75.1,330 C76.85,327.08 82,319.13 84.1,316 C86.2,312.87 90.8,306.01 93.1,303.2 C95.4,300.39 102.49,292.82 103.8,291.9 C105.11,290.98 104,294.52 104.3,295.3 C104.6,296.08 105.91,298.11 106.4,298.6 C106.89,299.09 107.38,299.79 108.5,299.5 C109.62,299.21 114.78,296.3 116,296.1 C117.22,295.9 118.5,297.21 119,297.8 C119.5,298.39 119.17,300.56 120.3,301.2 C121.43,301.84 126.98,302.81 128.7,303.3 C130.41,303.79 133.1,304.73 135,305.4 C136.9,306.06 142.67,308 145,309 C147.33,310 152.67,312.9 155,314 C157.33,315.1 163.16,317.55 165,318.4 C166.84,319.25 169.04,320.16 170.8,321.3 C172.56,322.44 178.07,326.92 180.1,328.2 C182.13,329.48 185.9,331.36 188.2,332.3 C190.5,333.25 198.18,335.55 199.8,336.3 C201.42,337.05 201.83,338.42 202.1,338.7" stroke="#ff0000" stroke-width="1.35" fill="none" stroke-linejoin="round" stroke-linecap="round"/>
<path d="M30.7,409.5 C31.13,408.8 33.41,404.9 34.37,403.5 C35.33,402.1 37.9,399.13 38.92,397.5 C39.93,395.87 42.1,391.37 43.07,389.5 C44.04,387.63 46.16,383.6 47.23,381.5 C48.3,379.4 51.07,373.83 52.26,371.5 C53.44,369.17 56.27,363.77 57.38,361.5 C58.49,359.23 60.68,354.39 61.8,352 C62.92,349.61 65.69,343.57 67,341 C68.31,338.43 71.25,332.92 73,330 C74.75,327.08 79.9,319.13 82,316 C84.1,312.87 88.76,306.63 91,303.2 C93.24,299.77 99.6,287.87 101.2,286.6 C102.8,285.33 103.36,291.88 104.7,292.3 C106.04,292.72 111.08,290.49 112.7,290.2 C114.32,289.91 117.33,289.71 118.6,289.8 C119.87,289.89 122.42,290.46 123.6,291 C124.78,291.54 127.37,293.7 128.7,294.4 C130.03,295.1 132.51,295.88 135,297 C137.49,298.12 146.5,301.64 150,304 C153.5,306.36 162.04,314.91 165,317.2 C167.96,319.49 172.83,322.38 175.4,323.6 C177.97,324.83 185.3,327.07 187,327.7 C188.7,328.33 189.65,328.85 190,329" stroke="#ff0000" stroke-width="1.35" fill="none" stroke-linejoin="round" stroke-linecap="round"/>
<path d="M30.7,412.5 C31.19,411.74 33.76,407.57 34.87,406 C35.98,404.43 39.02,400.75 40.21,399 C41.39,397.25 43.89,392.98 45.06,391 C46.22,389.02 48.9,384.45 50.2,382 C51.5,379.55 54.76,373.03 56.21,370 C57.66,366.97 60.86,359.15 62.6,356 C64.34,352.85 69.06,346.03 71.1,343 C73.14,339.97 78.12,332.92 80.1,330 C82.08,327.08 86.15,320.88 88.1,318 C90.05,315.12 95.35,306.86 96.8,305.3 C98.25,303.74 99.55,304.25 100.5,304.6 C101.45,304.95 104.13,307.19 104.9,308.3 C105.67,309.41 105.98,312.99 107.1,314.1 C108.22,315.21 112.96,316.59 114.5,317.8 C116.04,319.01 118.07,322.87 120.3,324.5 C122.53,326.13 130.76,330.09 133.6,331.8 C136.44,333.51 142.16,337.44 144.6,339.2 C147.04,340.96 153.34,346 154.5,346.9" stroke="#00ff00" stroke-width="1.35" fill="none" stroke-linejoin="round" stroke-linecap="round"/>
<path d="M30.7,412.5 C31.21,411.74 33.9,407.57 35.06,406 C36.22,404.43 39.39,400.75 40.63,399 C41.87,397.25 44.48,392.98 45.7,391 C46.92,389.02 49.71,384.45 51.07,382 C52.43,379.55 55.85,373.03 57.35,370 C58.85,366.97 62.14,359.15 63.9,356 C65.66,352.85 70.36,346.03 72.4,343 C74.44,339.97 79.42,332.92 81.4,330 C83.38,327.08 87.87,319.87 89.4,318 C90.93,316.13 93.64,314.65 94.5,314 C95.36,313.35 96.16,312.92 96.8,312.4 C97.44,311.88 99.32,309.62 100,309.5 C100.68,309.38 102,310.59 102.6,311.4 C103.19,312.2 104.36,315.75 105.1,316.4 C105.83,317.05 108.01,316.71 108.9,317 C109.79,317.29 111.67,318.23 112.7,318.9 C113.73,319.56 116.38,321.52 117.7,322.7 C119.02,323.88 122.38,327.89 124,329 C125.62,330.11 130.27,331.45 131.6,332.2 C132.93,332.95 133.84,334.35 135.4,335.4 C136.96,336.45 142.79,339.78 145,341.2 C147.21,342.62 153.22,346.85 154.3,347.6" stroke="#00ff00" stroke-width="1.35" fill="none" stroke-linejoin="round" stroke-linecap="round"/>
<path d="M30.7,412.5 C31.23,411.74 34.03,407.57 35.23,406 C36.43,404.43 39.73,400.75 41.02,399 C42.31,397.25 45.02,392.98 46.29,391 C47.56,389.02 50.46,384.45 51.87,382 C53.29,379.55 56.86,373.03 58.4,370 C59.95,366.97 63.33,359.15 65.1,356 C66.87,352.85 71.56,346.03 73.6,343 C75.64,339.97 80.62,332.92 82.6,330 C84.58,327.08 89.33,319.46 90.6,318 C91.87,316.54 92.89,317.68 93.5,317.5 C94.11,317.32 95.33,316.34 95.8,316.5 C96.27,316.66 97.01,318.18 97.5,318.9 C97.99,319.62 99.27,322.1 100,322.7 C100.73,323.3 102.61,324 103.8,324 C104.99,324 108.58,322.41 110.2,322.7 C111.82,322.99 115.94,325.32 117.7,326.5 C119.46,327.68 123.39,331.18 125.3,332.8 C127.21,334.42 132.85,339 134.1,340.4 C135.35,341.8 135.78,344.29 136,344.8" stroke="#00ff00" stroke-width="1.35" fill="none" stroke-linejoin="round" stroke-linecap="round"/>
<path d="M30.7,412.5 C31.22,411.74 33.96,407.57 35.14,406 C36.32,404.43 39.56,400.75 40.83,399 C42.09,397.25 44.75,392.98 45.99,391 C47.24,389.02 50.08,384.45 51.47,382 C52.86,379.55 56.36,373.03 57.88,370 C59.4,366.97 62.74,359.15 64.5,356 C66.26,352.85 70.96,346.03 73,343 C75.04,339.97 80.02,332.92 82,330 C83.98,327.08 88.78,319.42 90,318 C91.22,316.58 91.88,317.94 92.5,317.8 C93.12,317.66 94.75,316.62 95.3,316.8 C95.85,316.98 96.69,318.55 97.2,319.3 C97.71,320.05 98.97,322.59 99.7,323.2 C100.44,323.81 102.3,324.48 103.5,324.5 C104.7,324.52 108.39,323.11 110,323.4 C111.61,323.69 115.36,325.75 117.3,327 C119.24,328.25 124.05,332.39 126.6,334.1 C129.16,335.81 136.7,340.23 139.2,341.7 C141.7,343.17 145.57,345.52 148,346.7 C150.43,347.88 157.54,351.1 160,351.8 C162.46,352.5 166.01,352.85 169.1,352.7 C172.19,352.55 182.77,350.66 186.5,350.5 C190.23,350.34 198.54,350.95 201.1,351.3 C203.66,351.65 207.21,352.82 208.4,353.5 C209.59,354.18 210.96,356.68 211.3,357.1" stroke="#00ff00" stroke-width="1.35" fill="none" stroke-linejoin="round" stroke-linecap="round"/>
<path d="M30.7,412.5 C31.18,411.74 33.7,407.57 34.78,406 C35.87,404.43 38.85,400.75 40.01,399 C41.17,397.25 43.62,392.98 44.76,391 C45.9,389.02 48.52,384.45 49.79,382 C51.07,379.55 54.26,373.03 55.69,370 C57.11,366.97 60.27,359.15 62,356 C63.73,352.85 68.46,346.03 70.5,343 C72.54,339.97 77.63,331.81 79.5,330 C81.37,328.19 85.17,328.06 86.5,327.5 C87.83,326.94 89.96,325.29 90.9,325.2 C91.84,325.11 93.97,325.37 94.6,326.7 C95.23,328.03 95.37,334.85 96.3,336.6 C97.23,338.35 101.57,340.52 102.6,341.7 C103.63,342.88 104.07,345.96 105.1,346.7 C106.13,347.44 109.63,347.5 111.4,348 C113.17,348.5 118.23,349.82 120.3,351 C122.36,352.18 128.07,357.27 129.1,358.1" stroke="#00ff00" stroke-width="1.35" fill="none" stroke-linejoin="round" stroke-linecap="round"/>
</g>
<rect x="30.7" y="252.3" width="218.8" height="169.3" fill="none" stroke="#8c8c8c" stroke-width="1.0"/>
<path d="M30.7,421.6h2.2M249.5,421.6h-2.2M30.7,397.41h2.2M249.5,397.41h-2.2M30.7,373.23h2.2M249.5,373.23h-2.2M30.7,349.04h2.2M249.5,349.04h-2.2M30.7,324.86h2.2M249.5,324.86h-2.2M30.7,300.67h2.2M249.5,300.67h-2.2M30.7,276.49h2.2M249.5,276.49h-2.2M30.7,252.3h2.2M249.5,252.3h-2.2M30.7,421.6v-2.2M30.7,252.3v2.2M103.63,421.6v-2.2M103.63,252.3v2.2M176.57,421.6v-2.2M176.57,252.3v2.2M249.5,421.6v-2.2M249.5,252.3v2.2" stroke="#8c8c8c" stroke-width="1.0" fill="none"/>
<text x="27.3" y="425.1" font-size="9" text-anchor="end" fill="#3a3a3a" stroke="#3a3a3a" stroke-width="0.14" >0</text>
<text x="27.3" y="400.91" font-size="9" text-anchor="end" fill="#3a3a3a" stroke="#3a3a3a" stroke-width="0.14" >0.5</text>
<text x="27.3" y="376.73" font-size="9" text-anchor="end" fill="#3a3a3a" stroke="#3a3a3a" stroke-width="0.14" >1</text>
<text x="27.3" y="352.54" font-size="9" text-anchor="end" fill="#3a3a3a" stroke="#3a3a3a" stroke-width="0.14" >1.5</text>
<text x="27.3" y="328.36" font-size="9" text-anchor="end" fill="#3a3a3a" stroke="#3a3a3a" stroke-width="0.14" >2</text>
<text x="27.3" y="304.17" font-size="9" text-anchor="end" fill="#3a3a3a" stroke="#3a3a3a" stroke-width="0.14" >2.5</text>
<text x="27.3" y="279.99" font-size="9" text-anchor="end" fill="#3a3a3a" stroke="#3a3a3a" stroke-width="0.14" >3</text>
<text x="27.3" y="255.8" font-size="9" text-anchor="end" fill="#3a3a3a" stroke="#3a3a3a" stroke-width="0.14" >3.5</text>
<text x="30.7" y="433.8" font-size="9" text-anchor="middle" fill="#3a3a3a" stroke="#3a3a3a" stroke-width="0.14" >0</text>
<text x="103.63" y="433.8" font-size="9" text-anchor="middle" fill="#3a3a3a" stroke="#3a3a3a" stroke-width="0.14" >5</text>
<text x="176.57" y="433.8" font-size="9" text-anchor="middle" fill="#3a3a3a" stroke="#3a3a3a" stroke-width="0.14" >10</text>
<text x="249.5" y="433.8" font-size="9" text-anchor="middle" fill="#3a3a3a" stroke="#3a3a3a" stroke-width="0.14" >15</text>
<text x="140.6" y="446.2" font-size="9.6" text-anchor="middle" fill="#3a3a3a" stroke="#3a3a3a" stroke-width="0.14" >Deformation (mm)</text>
<text x="0" y="0" font-size="9.6" text-anchor="middle" fill="#3a3a3a" stroke="#3a3a3a" stroke-width="0.14" transform="translate(10.1,336.9) rotate(-90)">Load (kN)</text>
<text x="134.8" y="468.5" font-size="9.6" text-anchor="middle" fill="#2a2a2a" stroke="#2a2a2a" stroke-width="0.55">(c)</text>
<rect x="181.1" y="383.9" width="63.7" height="32.7" fill="#fff" stroke="#9a9a9a" stroke-width="1"/>
<path d="M183.4,390H202.7" stroke="#0000ff" stroke-width="1.6"/>
<text x="204.7" y="392.9" font-size="8" text-anchor="start" fill="#3a3a3a" stroke="#3a3a3a" stroke-width="0.14" >EPS-B22</text>
<path d="M183.4,400.05H202.7" stroke="#ff0000" stroke-width="1.6"/>
<text x="204.7" y="402.95" font-size="8" text-anchor="start" fill="#3a3a3a" stroke="#3a3a3a" stroke-width="0.14" >EPS-B23</text>
<path d="M183.4,410.1H202.7" stroke="#00ff00" stroke-width="1.6"/>
<text x="204.7" y="413" font-size="8" text-anchor="start" fill="#3a3a3a" stroke="#3a3a3a" stroke-width="0.14" >EPS-B23X</text>
<rect x="354.15" y="270.4" width="46.3" height="154.1" fill="#edb120" stroke="#262626" stroke-width="0.5"/>
<rect x="411.45" y="286.52" width="46.3" height="137.98" fill="#edb120" stroke="#262626" stroke-width="0.5"/>
<rect x="469.55" y="314.11" width="46.3" height="110.39" fill="#edb120" stroke="#262626" stroke-width="0.5"/>
<path d="M377.3,259.48V278.12M374.8,259.48h5M374.8,278.12h5" stroke="#000" stroke-width="1"/>
<path d="M434.6,278.46V293.21M432.1,278.46h5M432.1,293.21h5" stroke="#000" stroke-width="1"/>
<path d="M492.7,305.51V327.14M490.2,305.51h5M490.2,327.14h5" stroke="#000" stroke-width="1"/>
<rect x="325.5" y="252.4" width="218.5" height="172.1" fill="none" stroke="#8c8c8c" stroke-width="1.0"/>
<path d="M325.5,424.5h2.2M544,424.5h-2.2M325.5,399.91h2.2M544,399.91h-2.2M325.5,375.33h2.2M544,375.33h-2.2M325.5,350.74h2.2M544,350.74h-2.2M325.5,326.16h2.2M544,326.16h-2.2M325.5,301.57h2.2M544,301.57h-2.2M325.5,276.99h2.2M544,276.99h-2.2M325.5,252.4h2.2M544,252.4h-2.2M377.3,424.5v-2.2M377.3,252.4v2.2M434.6,424.5v-2.2M434.6,252.4v2.2M492.7,424.5v-2.2M492.7,252.4v2.2" stroke="#8c8c8c" stroke-width="1.0" fill="none"/>
<text x="322" y="428" font-size="9" text-anchor="end" fill="#3a3a3a" stroke="#3a3a3a" stroke-width="0.14" >0</text>
<text x="322" y="403.41" font-size="9" text-anchor="end" fill="#3a3a3a" stroke="#3a3a3a" stroke-width="0.14" >0.5</text>
<text x="322" y="378.83" font-size="9" text-anchor="end" fill="#3a3a3a" stroke="#3a3a3a" stroke-width="0.14" >1</text>
<text x="322" y="354.24" font-size="9" text-anchor="end" fill="#3a3a3a" stroke="#3a3a3a" stroke-width="0.14" >1.5</text>
<text x="322" y="329.66" font-size="9" text-anchor="end" fill="#3a3a3a" stroke="#3a3a3a" stroke-width="0.14" >2</text>
<text x="322" y="305.07" font-size="9" text-anchor="end" fill="#3a3a3a" stroke="#3a3a3a" stroke-width="0.14" >2.5</text>
<text x="322" y="280.49" font-size="9" text-anchor="end" fill="#3a3a3a" stroke="#3a3a3a" stroke-width="0.14" >3</text>
<text x="322" y="255.9" font-size="9" text-anchor="end" fill="#3a3a3a" stroke="#3a3a3a" stroke-width="0.14" >3.5</text>
<text x="377.3" y="437.3" font-size="8.9" text-anchor="middle" fill="#3a3a3a" stroke="#3a3a3a" stroke-width="0.14" >EPS-B22</text>
<text x="434.6" y="437.3" font-size="8.9" text-anchor="middle" fill="#3a3a3a" stroke="#3a3a3a" stroke-width="0.14" >EPS-B23</text>
<text x="492.7" y="437.3" font-size="8.9" text-anchor="middle" fill="#3a3a3a" stroke="#3a3a3a" stroke-width="0.14" >EPS-B23X</text>
<text x="0" y="0" font-size="8.9" text-anchor="middle" fill="#3a3a3a" stroke="#3a3a3a" stroke-width="0.14" transform="translate(305,338.5) rotate(-90)">Load (kN)</text>
<text x="429" y="468.8" font-size="9.6" text-anchor="middle" fill="#2a2a2a" stroke="#2a2a2a" stroke-width="0.55">(d)</text>
</svg>
</body></html>
